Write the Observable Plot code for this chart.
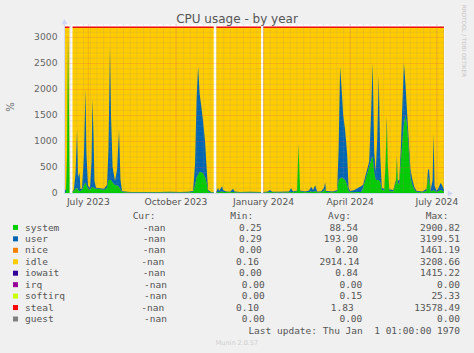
<!DOCTYPE html>
<html><head><meta charset="utf-8">
<script src="https://cdn.jsdelivr.net/npm/d3@7"></script>
<script src="https://cdn.jsdelivr.net/npm/@observablehq/plot@0.6"></script>
<style>
html,body{margin:0;padding:0;background:#F0F0F0;}
#wrap{position:relative;width:474px;height:353px;background:#F0F0F0;overflow:hidden;}
#chart{position:absolute;left:0;top:0;}
#overlay{position:absolute;left:0;top:0;}
</style></head>
<body><div id="wrap"><div id="chart"></div><svg id="overlay" width="474" height="353"></svg></div>
<script>
// ---------- DATA ----------
const title = "CPU usage - by year";
const yLabel = "%";
const xTickDates = ["2023-07-01","2023-10-01","2024-01-01","2024-04-01","2024-07-01"];
const xTickLabels = ["July 2023","October 2023","January 2024","April 2024","July 2024"];
const yTicks = [0,500,1000,1500,2000,2500,3000];
const capacity = 3175;   // system + user + idle (idle fills the rest)
const stealLevel = 27;

// time series (null = no data)
const dates = [
 // seg A
 "2023-06-06","2023-06-07T01","2023-06-08T02","2023-06-09T04","2023-06-10T05","2023-06-11T06","2023-06-11T19",
 "2023-06-13",
 // seg B
 "2023-06-14T22","2023-06-16T12","2023-06-18T02","2023-06-19T17","2023-06-20T17","2023-06-22T07","2023-06-23T07","2023-06-24T22","2023-06-27","2023-06-28T14",
 "2023-06-29T14","2023-07-01T05","2023-07-03T07","2023-07-04T22","2023-07-05T22","2023-07-07","2023-07-08","2023-07-09T14","2023-07-13T19","2023-07-18",
 "2023-07-21T05","2023-07-22T17","2023-07-24T07","2023-07-25T10","2023-07-27","2023-07-29T14","2023-07-31T17","2023-08-02T19","2023-08-04T07","2023-08-05T22",
 // seg C
 "2023-08-14T07","2023-08-24T19","2023-09-04T07","2023-09-14T19","2023-09-25T07","2023-10-05T19","2023-10-14T07","2023-10-19T12","2023-10-21T14","2023-10-23T05",
 "2023-10-24T19","2023-10-26T10","2023-10-27T22","2023-10-30","2023-11-01T02","2023-11-02T17","2023-11-04T07","2023-11-07T10","2023-11-10T05",
 "2023-11-11T12",
 // seg D
 "2023-11-12T22","2023-11-14T19","2023-11-15T19","2023-11-19","2023-11-20","2023-11-23T02","2023-11-27T10","2023-11-30T12","2023-12-02T02","2023-12-07T22",
 "2023-12-18T10","2023-12-29T22",
 "2023-12-31",
 // seg E
 "2024-01-01T07","2024-01-06T05","2024-01-08T07","2024-01-10T10","2024-01-18T19","2024-01-28T07","2024-01-30T10","2024-02-01T12","2024-02-05T17","2024-02-07T07",
 "2024-02-08T22","2024-02-14T02","2024-02-18T07","2024-02-20T12","2024-02-22T12","2024-02-24T17","2024-02-26T19","2024-03-02","2024-03-05T02","2024-03-06T05",
 "2024-03-07T05","2024-03-14T14","2024-03-18T19","2024-03-20T07","2024-03-21T22","2024-03-23T12","2024-03-25T02","2024-03-27T05","2024-03-29T07","2024-03-30T19",
 "2024-04-01T10","2024-04-05T14","2024-04-09T19","2024-04-13","2024-04-15T02","2024-04-18T05","2024-04-21T10","2024-04-23T12","2024-04-25T02","2024-04-26T17",
 "2024-04-28T07","2024-04-29T22","2024-05-01T12","2024-05-03T02","2024-05-04T17","2024-05-07T07","2024-05-08T19","2024-05-09T22","2024-05-11","2024-05-12T14",
 "2024-05-16T19","2024-05-19T10","2024-05-20T12","2024-05-21T12","2024-05-23T02","2024-05-24T17","2024-05-26T07","2024-05-27T22","2024-05-29T12","2024-05-31T02",
 "2024-06-01T17","2024-06-03T19","2024-06-05T22","2024-06-08","2024-06-10T05","2024-06-16T12","2024-06-20T17","2024-06-22T07","2024-06-23T07","2024-06-24T22",
 "2024-06-27","2024-06-28T02","2024-06-29T02","2024-07-01T05","2024-07-03T07","2024-07-05T10","2024-07-07","2024-07-08T14","2024-07-09"
];
const system = [
 30,20,20,600,2900,1500,300,
 null,
 20,40,80,100,60,40,40,60,150,200,
 150,80,60,100,120,100,80,80,70,60,
 100,250,250,250,200,150,150,120,60,20,
 10,12,10,10,12,10,12,20,150,300,
 350,410,400,380,300,200,30,10,10,
 null,
 10,20,20,30,20,20,15,20,15,10,
 12,10,
 null,
 10,15,20,15,12,15,20,15,30,900,
 30,15,20,30,20,40,15,15,40,80,
 20,15,30,250,280,300,280,250,150,40,
 20,15,20,20,100,300,500,640,700,400,
 250,250,250,200,60,50,600,1300,500,40,
 30,200,650,200,150,600,1000,1300,1500,1300,
 900,300,150,60,20,15,40,300,250,30,
 40,60,40,20,40,60,50,30,20
];
const user = [
 260,60,20,100,150,100,50,
 null,
 10,30,300,1110,250,350,30,30,600,1800,
 600,60,40,500,1700,1000,150,20,20,20,
 60,600,2550,1200,300,80,300,1090,200,15,
 10,8,10,8,10,10,10,20,400,1500,
 2080,1500,1300,1000,700,300,30,10,10,
 null,
 10,80,20,100,40,10,10,60,15,10,
 10,10,
 null,
 10,15,40,10,10,15,70,15,20,40,
 20,15,30,90,40,110,15,15,60,120,
 20,15,30,550,2150,1700,1230,950,600,60,
 20,40,80,110,60,80,100,900,1800,400,
 150,800,2000,500,40,30,80,170,60,30,
 30,50,60,40,100,300,700,1200,600,300,
 200,150,100,50,20,15,40,150,200,30,
 200,1090,100,20,60,130,100,50,30
];

// legend
const seriesNames = ["system","user","nice","idle","iowait","irq","softirq","steal","guest"];
const curVals = [NaN,NaN,NaN,NaN,NaN,NaN,NaN,NaN,NaN];
const minVals = [0.25,0.29,0.00,0.16,0.00,0.00,0.00,0.10,0.00];
const avgVals = [88.54,193.90,0.20,2914.14,0.84,0.00,0.15,1.83,0.00];
const maxVals = [2900.82,3199.51,1461.19,3208.66,1415.22,0.00,25.33,13578.49,0.00];
const headers = ["Cur:","Min:","Avg:","Max:"];
const lastUpdate = "Last update: Thu Jan  1 01:00:00 1970";
const watermark = "RRDTOOL / TOBI OETIKER";
const version = "Munin 2.0.57";

// ---------- STYLE ----------
const seriesColors = ["#00CC00","#0066B3","#FF8000","#FFCC00","#330099","#990099","#CCFF00","#FF0000","#808080"];
const col = Object.fromEntries(seriesNames.map((n,i)=>[n,seriesColors[i]]));

// ---------- BUILD ----------
const parse = s => new Date(s.length === 10 ? s + "T00:00Z" : s + ":00Z");
if (dates.length !== system.length || dates.length !== user.length) console.error("length mismatch", dates.length, system.length, user.length);
const rows = dates.map((s,i) => ({date: parse(s), system: system[i], user: user[i]}));
const ok = d => d.system != null && d.user != null;
const xStart = parse("2023-06-06"), xEnd = parse("2024-07-09");
const tickD = xTickDates.map(parse);
const labelOf = new Map(tickD.map((d,i)=>[+d, xTickLabels[i]]));
const weeks = d3.utcMonday.range(xStart, xEnd);
const minorY = d3.range(100, 3250, 100).filter(v => v % 500 !== 0);

const chart = Plot.plot({
  width: 474, height: 212,
  marginLeft: 64, marginRight: 30, marginTop: 24, marginBottom: 19,
  style: {background: "transparent", overflow: "visible", fontFamily: "DejaVu Sans", color: "#666"},
  x: {type: "utc", domain: [xStart, xEnd]},
  y: {domain: [0, 3250]},
  marks: [
    Plot.frame({fill: "#ffffff", stroke: null}),
    Plot.areaY(rows, {x: "date", y1: 0, y2: d => ok(d) ? capacity : NaN, fill: col.idle}),
    Plot.areaY(rows, {x: "date", y1: d => ok(d) ? capacity : NaN, y2: d => ok(d) ? capacity + stealLevel : NaN, fill: col.steal}),
    Plot.areaY(rows, {x: "date", y1: 0, y2: d => ok(d) ? d.system : NaN, fill: col.system}),
    Plot.areaY(rows, {x: "date", y1: d => ok(d) ? d.system : NaN, y2: d => ok(d) ? d.system + d.user : NaN, fill: col.user}),
    Plot.ruleX(weeks, {stroke: "#8F8F8F", strokeOpacity: 0.17, strokeWidth: 1}),
    Plot.ruleY(minorY, {stroke: "#8F8F8F", strokeOpacity: 0.17, strokeWidth: 1}),
    Plot.ruleX(tickD, {stroke: "#DE5050", strokeOpacity: 0.2}),
    Plot.ruleY(yTicks.slice(1), {stroke: "#DE5050", strokeOpacity: 0.2}),
    Plot.ruleY([0], {stroke: "#CFD6F8", x1: xStart, x2: xEnd}),
    Plot.ruleX([xStart], {stroke: "#CFD6F8", y1: 0, y2: 3250}),
    Plot.dot([xEnd], {x: d => d, y: 0, dx: 5, symbol: "triangle", rotate: 90, r: 2.2, fill: "#CFD6F8", stroke: null}),
    Plot.dot([xStart], {x: d => d, y: 3250, dy: -2, symbol: "triangle", r: 2.2, fill: "#CFD6F8", stroke: null}),
    Plot.axisX(tickD, {tickSize: 0, tickPadding: 5, fontSize: 9.2, fill: "#555", tickFormat: d => labelOf.get(+d), label: null}),
    Plot.axisY(yTicks, {tickSize: 0, tickPadding: 7, fontSize: 9.2, fill: "#666", tickFormat: d => String(d), label: null})
  ]
});
document.getElementById("chart").appendChild(chart);

// ---------- OVERLAY (title, labels, legend) ----------
const svg = d3.select("#overlay");
svg.append("text").attr("x", 237).attr("y", 23).attr("text-anchor", "middle")
  .attr("font-family", "DejaVu Sans").attr("font-size", 12).attr("fill", "#555").text(title);
svg.append("text").attr("transform", "translate(13.5,107) rotate(-90)").attr("text-anchor", "middle")
  .attr("font-family", "DejaVu Sans").attr("font-size", 10).attr("fill", "#666").text(yLabel);
svg.append("text").attr("transform", "translate(462,5) rotate(90)")
  .attr("font-family", "DejaVu Sans").attr("font-size", 5.6).attr("fill", "#c4c4c4").text(watermark);
svg.append("text").attr("x", 237).attr("y", 345).attr("text-anchor", "middle")
  .attr("font-family", "DejaVu Sans").attr("font-size", 6.5).attr("fill", "#cfcfcf").text(version);

// legend: rrdtool-style justified lines
const mono = "DejaVu Sans Mono", fs = 9.5;
const probe = svg.append("text").attr("font-family", mono).attr("font-size", fs).text("0000000000");
const cw = probe.node().getComputedTextLength() / 10; probe.remove();
const L = 13, R = 460, w0 = 56.3;
const fmt = v => isNaN(v) ? "-nan" : v.toFixed(2);
function edges(strs) {
  const ws = strs.map(s => cw * Math.max(6, s.length));
  const g = (R - L - w0 - d3.sum(ws)) / 4;
  const out = []; let x = L + w0;
  ws.forEach(w => { x += g + w; out.push(x); });
  return out;
}
const tx = (x, y, s, anchor) => svg.append("text").attr("x", x).attr("y", y)
  .attr("text-anchor", anchor || "start").attr("font-family", mono).attr("font-size", fs)
  .attr("fill", "#555").style("white-space", "pre").text(s);

const baseY = 230.5, step = 11.45;
const hdrEdges = edges(["000000","000000","000000","000000"]);
headers.forEach((h, j) => tx(hdrEdges[j] - 2 * cw, baseY - step, h, "end"));
seriesNames.forEach((n, i) => {
  const y = baseY + i * step;
  svg.append("rect").attr("x", L).attr("y", y - 5.6).attr("width", 5).attr("height", 5).attr("fill", seriesColors[i]);
  tx(25, y, n);
  const strs = [fmt(curVals[i]), fmt(minVals[i]), fmt(avgVals[i]), fmt(maxVals[i])];
  const e = edges(strs);
  strs.forEach((s, j) => tx(e[j], y, s, "end"));
});
tx(R, baseY + 9 * step, lastUpdate, "end");
</script>
</body></html>
